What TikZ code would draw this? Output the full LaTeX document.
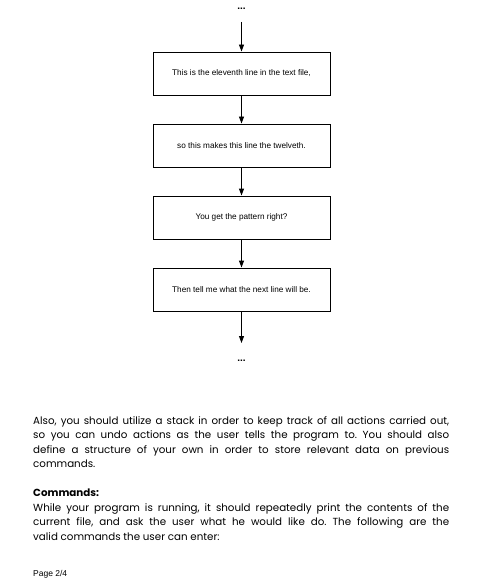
\documentclass[tikz,border=0pt]{standalone}
\usepackage{fontspec}
\setmainfont{Poppins}
\newfontfamily\arialf{Liberation Sans}
\usetikzlibrary{arrows.meta}
\frenchspacing
\begin{document}
\begin{tikzpicture}[x=1pt,y=-1pt,
  flowbox/.style={draw=black,line width=0.9pt,minimum width=177pt,minimum height=43pt,inner sep=0pt,font=\arialf\fontsize{8.2}{10}\selectfont},
  flowarrow/.style={draw=black,line width=0.9pt,-{Triangle[length=7pt,width=5pt]}},
  dots/.style={font=\arialf\bfseries\fontsize{10}{10}\selectfont,inner sep=0pt}]
\useasboundingbox (0,0) rectangle (502,588);
\fill[white] (0,0) rectangle (502,588);
\node[dots] (d1) at (241.5,9) {...};
\node[flowbox] (b1) at (241.5,73.5) {This is the eleventh line in the text file,};
\node[flowbox] (b2) at (241.5,145.5) {so this makes this line the twelveth.};
\node[flowbox] (b3) at (241.5,217.5) {You get the pattern right?};
\node[flowbox] (b4) at (241.5,289.5) {Then tell me what the next line will be.};
\node[dots] (d2) at (241.5,361) {...};
\coordinate (a0) at (241.5,22);
\coordinate (a5) at (241.5,343);
\draw[flowarrow] (a0) -- (b1.north);
\draw[flowarrow] (b1.south) -- (b2.north);
\draw[flowarrow] (b2.south) -- (b3.north);
\draw[flowarrow] (b3.south) -- (b4.north);
\draw[flowarrow] (b4.south) -- (a5);
\node[anchor=north west,inner sep=0pt,text width=416pt,align=justify,font=\fontsize{10.3}{14.5}\selectfont] (p1) at (33,416)
{Also, you should utilize a stack in order to keep track of all actions carried out,\linebreak so you can undo actions as the user tells the program to. You should also\linebreak define a structure of your own in order to store relevant data on previous\linebreak commands.};
\node[anchor=north west,inner sep=0pt,text width=416pt,align=justify,font=\fontsize{10.3}{14.5}\selectfont] (p2) at (33,489)
{\textbf{Commands:}\newline While your program is running, it should repeatedly print the contents of the\linebreak current file, and ask the user what he would like do. The following are the\linebreak valid commands the user can enter:};
\node[anchor=west,inner sep=0pt,font=\arialf\fontsize{8.5}{10}\selectfont] (pg) at (33,574) {Page 2/4};
\end{tikzpicture}
\end{document}
